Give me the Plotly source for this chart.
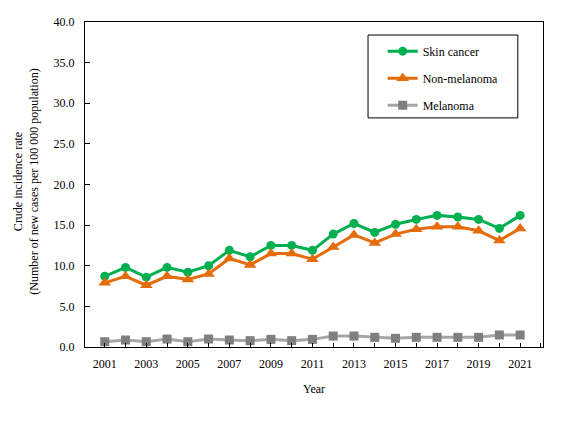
import plotly.graph_objects as go

# ── Data ─────────────────────────────────────────────────────────────────────
years = list(range(2001, 2022))

skin_cancer = [8.7, 9.8, 8.6, 9.8, 9.2, 10.0, 11.9, 11.1, 12.5, 12.5, 11.9,
               13.9, 15.2, 14.1, 15.1, 15.7, 16.2, 16.0, 15.7, 14.6, 16.2]
non_melanoma = [7.9, 8.7, 7.6, 8.7, 8.3, 9.0, 10.9, 10.1, 11.5, 11.5, 10.8,
                12.3, 13.8, 12.8, 13.9, 14.5, 14.8, 14.8, 14.3, 13.1, 14.6]
melanoma = [0.65, 0.86, 0.65, 0.98, 0.65, 0.98, 0.86, 0.78, 0.94, 0.78, 0.94,
            1.35, 1.35, 1.19, 1.07, 1.19, 1.19, 1.19, 1.19, 1.48, 1.48]

y_ticks = [0, 5, 10, 15, 20, 25, 30, 35, 40]
x_ticks = list(range(2001, 2022, 2))

FONT = "Liberation Serif"

# ── Figure ───────────────────────────────────────────────────────────────────
fig = go.Figure()

series = [
    ("Skin cancer", skin_cancer, "#00B050", "#00B050", "circle", 9),
    ("Non-melanoma", non_melanoma, "#E46C0A", "#E46C0A", "triangle-up", 11),
    ("Melanoma", melanoma, "#A6A6A6", "#7F7F7F", "square", 9),
]

for i, (name, vals, lcol, mcol, sym, size) in enumerate(series):
    fig.add_trace(go.Scatter(
        x=years, y=vals,
        mode="lines+markers",
        name=name,
        legendgroup=str(i),
        line=dict(color=lcol, width=3),
        marker=dict(color=mcol, symbol=sym, size=size),
    ))

# legend frame drawn as a shape so the entries can sit indented inside it
fig.add_shape(type="rect", xref="paper", yref="paper",
              x0=0.618, x1=0.945, y0=0.705, y1=0.96,
              line=dict(color="black", width=1), fillcolor="white", layer="below")

# y-axis title as a rotated annotation (placed like the original)
fig.add_annotation(
    text="Crude incidence rate<br>(Number of new cases per 100 000 population)",
    xref="paper", yref="paper", x=-0.128, y=0.51,
    xanchor="center", yanchor="middle",
    textangle=-90, showarrow=False,
    font=dict(family=FONT, size=12, color="black"),
)

# page body adds an 8px offset, so the figure is 8px smaller than the window
fig.update_layout(
    width=575, height=439,
    margin=dict(l=77, r=40, t=14, b=100),
    paper_bgcolor="white",
    plot_bgcolor="white",
    font=dict(family=FONT, size=12, color="black"),
    showlegend=True,
    legend=dict(
        x=0.65, y=0.955, xanchor="left", yanchor="top",
        borderwidth=0,
        bgcolor="rgba(0,0,0,0)",
        tracegroupgap=8,
        itemwidth=30,
        font=dict(family=FONT, size=12, color="black"),
    ),
)

fig.update_xaxes(
    range=[2000.05, 2022.1],
    tickvals=x_ticks,
    ticktext=[str(y) for y in x_ticks],
    ticks="inside", ticklen=4, tickcolor="black",
    ticklabelstandoff=6,
    minor=dict(dtick=1, tick0=2001, ticks="inside", ticklen=4, tickcolor="black"),
    showline=True, linecolor="black", linewidth=1, mirror=True,
    showgrid=False, zeroline=False, automargin=False,
    title=dict(text="Year", standoff=14, font=dict(family=FONT, size=12)),
)

fig.update_yaxes(
    range=[0, 40],
    tickvals=y_ticks,
    ticktext=[f"{v:.1f}" for v in y_ticks],
    ticks="inside", ticklen=5, tickcolor="black",
    ticklabelstandoff=7,
    showline=True, linecolor="black", linewidth=1, mirror=True,
    showgrid=False, zeroline=False, automargin=False,
)

fig.write_html("out.html")
